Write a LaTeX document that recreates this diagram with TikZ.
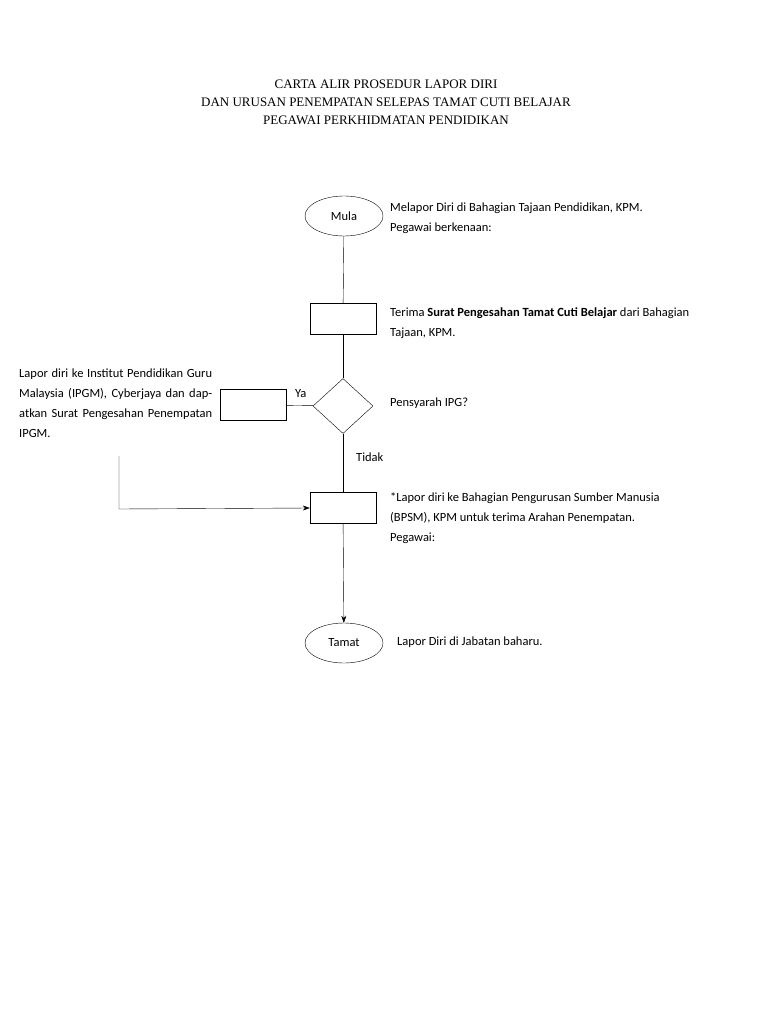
\documentclass[tikz,border=0pt]{standalone}
\usepackage{fontspec}
\setmainfont{Carlito}
\newfontfamily\titlefont{Liberation Serif}
\usetikzlibrary{shapes.geometric,arrows.meta}
\begin{document}
\begin{tikzpicture}[x=1pt,y=-1pt,
  every node/.style={font=\fontsize{12.5}{20}\selectfont},
  term/.style={draw,ellipse,minimum width=78pt,minimum height=40pt,inner sep=0pt},
  box/.style={draw,minimum width=66pt,minimum height=31pt,inner sep=0pt},
  dia/.style={draw,diamond,minimum width=60pt,minimum height=55pt,inner sep=0pt},
  txt/.style={anchor=west,inner sep=0pt,align=left},
  arr/.style={-{Stealth[length=7pt,width=5pt]}}]
\useasboundingbox (0,0) rectangle (768,1024);
\node[font=\titlefont\fontsize{13}{18}\selectfont,align=center] (title) at (386,102)
 {CARTA ALIR PROSEDUR LAPOR DIRI\\DAN URUSAN PENEMPATAN SELEPAS TAMAT CUTI BELAJAR\\PEGAWAI PERKHIDMATAN PENDIDIKAN};
\node[term] (mula) at (344,216) {Mula};
\node[box] (b1) at (343,319) {};
\node[dia] (d) at (343,406) {};
\node[box] (bl) at (253,405) {};
\node[box] (b3) at (343,508) {};
\node[term] (tamat) at (344,643) {Tamat};
\coordinate (c0) at (119,456);
\coordinate (c1) at (119,509);
\draw (mula) -- (b1);
\draw (b1) -- (d);
\draw (d) -- (bl);
\draw (d) -- (b3);
\draw[arr] (b3) -- (tamat);
\draw[arr] (c0) -- (c1) -- (b3.west);
\node[txt] (ya) at (295,394) {Ya};
\node[txt] (tidak) at (356,457) {Tidak};
\node[txt] (t1) at (390,218) {Melapor Diri di Bahagian Tajaan Pendidikan, KPM.\\Pegawai berkenaan:};
\node[txt] (t2) at (390,323) {Terima \textbf{Surat Pengesahan Tamat Cuti Belajar} dari Bahagian\\Tajaan, KPM.};
\node[txt] (t3) at (390,403) {Pensyarah IPG?};
\node[txt] (t4) at (390,518) {*Lapor diri ke Bahagian Pengurusan Sumber Manusia\\(BPSM), KPM untuk terima Arahan Penempatan.\\Pegawai:};
\node[txt] (t5) at (397,642) {Lapor Diri di Jabatan baharu.};
\node[anchor=north west,inner sep=0pt,text width=193pt,align=justify] (tl) at (19,369)
 {Lapor diri ke Institut Pendidikan Guru Malaysia (IPGM), Cyberjaya dan dapatkan Surat Pengesahan Penempatan IPGM.};
\end{tikzpicture}
\end{document}
